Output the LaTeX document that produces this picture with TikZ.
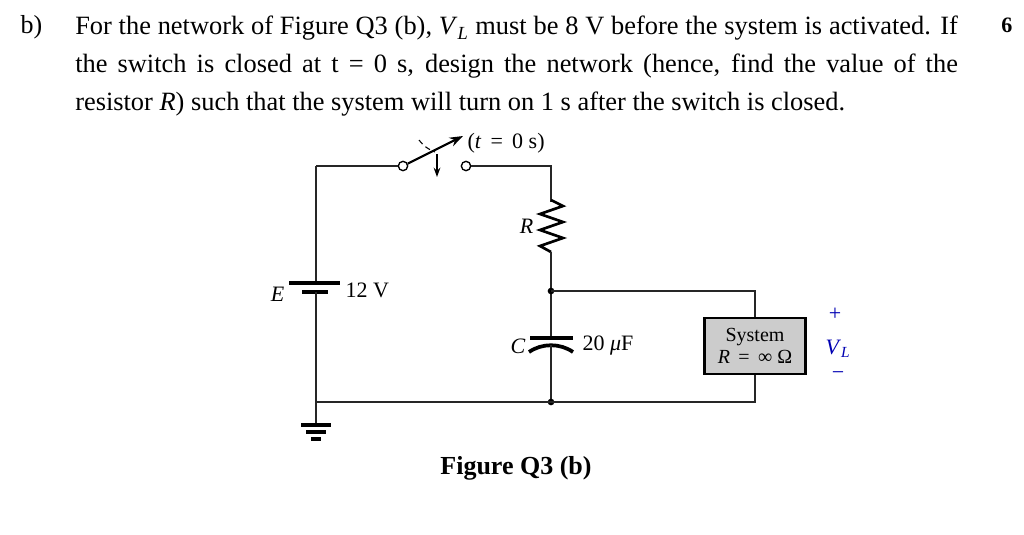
\documentclass[tikz,border=0pt]{standalone}
\usepackage{fontspec}
\setmainfont{Liberation Serif}
\usetikzlibrary{arrows.meta}
\begin{document}
\begin{tikzpicture}[x=0.75pt,y=-0.75pt,
  wire/.style={line width=1.4pt,black!85},
  term/.style={circle,draw,line width=1pt,fill=white,inner sep=0pt,minimum size=7pt},
  dot/.style={circle,fill,inner sep=0pt,minimum size=5pt},
  lab/.style={font=\fontsize{16.5}{19}\selectfont,inner sep=1pt},
  blue/.style={text=blue!70!black,font=\fontsize{16.5}{19}\selectfont}]
\useasboundingbox (0,0) rectangle (1024,535);
% text
\node[anchor=base west,font=\fontsize{19.5}{28.5}\selectfont] (bq) at (16,34) {b)};
\node[anchor=base east,font=\bfseries\fontsize{16.5}{18}\selectfont] (mk) at (1017,33) {6};
\node[anchor=north west,text width=662pt,align=justify,inner sep=0pt,font=\fontsize{19.8}{28.5}\selectfont] (para) at (75,16)
 {For the network of Figure Q3 (b), \textit{V}\textsubscript{\textit{L}} must be 8 V before the system is activated. If\linebreak
 the switch is closed at t = 0 s, design the network (hence, find the value of the\linebreak
 resistor \textit{R}) such that the system will turn on 1 s after the switch is closed.};
% coordinates
\coordinate (tl) at (316,166);
\coordinate (tr) at (551,166);
\coordinate (n1) at (551,291);
\coordinate (n2) at (551,402);
\coordinate (bl) at (316,402);
\coordinate (sr) at (755,291);
\coordinate (sb) at (755,402);
\node[term] (s1) at (403,166) {};
\node[term] (s2) at (466,166) {};
% left wire with battery
\draw[wire] (tl) -- (316,283);
\draw[line width=3.5pt] (289,283) -- (340,283);
\draw[line width=3.5pt] (302,292) -- (328,292);
\draw[wire] (316,292) -- (316,425);
\draw[line width=3pt] (301,425) -- (331,425);
\draw[line width=3pt] (306,432) -- (326,432);
\draw[line width=3pt] (311,439) -- (321,439);
\node[lab,anchor=east] (E) at (286,294) {\textit{E}};
\node[lab,anchor=west] (V12) at (344,290) {12 V};
% top wire & switch
\draw[wire] (tl) -- (s1);
\draw[wire] (s2) -- (tr) -- (551,202);
\draw[line width=1.6pt,-{Stealth[length=10pt,width=7pt]}] (s1) -- (463,136);
\draw[line width=0.8pt,dash pattern=on 4pt off 3pt] (419,140) to[bend right=15] (435,152);
\draw[line width=1.2pt,-{Stealth[length=7pt,width=5pt]}] (437,154) -- (437,177);
\node[lab,anchor=west] (t0) at (466,143) {(\textit{t} \,=\, 0 s)};
% resistor
\draw[line width=2pt,line join=miter] (551,200) -- (563,206) -- (540,214) -- (563,222) -- (540,230) -- (563,238) -- (540,246) -- (551,252);
\draw[wire] (551,252) -- (n1);
\node[lab,anchor=east] (R) at (535,226) {\textit{R}};
% capacitor
\draw[wire] (n1) -- (551,338);
\draw[line width=2.8pt] (530,338) -- (573,338);
\draw[line width=2.8pt] (529,352) .. controls (542,343) and (560,343) .. (573,352);
\draw[wire] (551,345) -- (n2);
\node[dot] (d1) at (n1) {};
\node[dot] (d2) at (n2) {};
\node[lab,anchor=east] (C) at (527,346) {\textit{C}};
\node[lab,anchor=west] (cf) at (581,346) {20 \textit{μ}F};
% system
\node[draw,line width=2.2pt,fill=black!20,minimum width=76pt,minimum height=42pt,inner sep=0pt,align=center,font=\fontsize{15}{17}\selectfont] (sys) at (755,346) {System\\[0pt]\textit{R} \,=\, ∞ Ω};
\draw[wire] (n1) -- (sr) -- (sys.north);
\draw[wire] (bl) -- (n2) -- (sb) -- (sys.south);
\node[blue] (plus) at (835,314) {+};
\node[blue] (VL) at (838,349) {\textit{V}\textsubscript{\textit{L}}};
\node[blue] (minus) at (838,376) {−};
\node[font=\bfseries\fontsize{19.5}{22}\selectfont] (cap) at (516,468) {Figure Q3 (b)};
\end{tikzpicture}
\end{document}
